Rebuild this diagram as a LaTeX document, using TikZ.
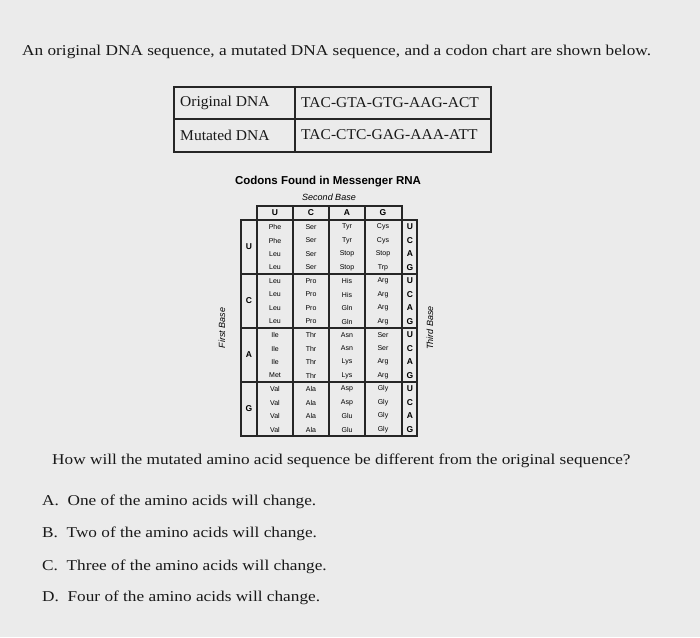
\documentclass[tikz,border=0pt]{standalone}
\usepackage{fontspec}
\setmainfont{Liberation Serif}
\newfontfamily\hsans{Liberation Sans}
\begin{document}
\begin{tikzpicture}[x=1pt,y=-1pt,
  serif/.style={font=\fontsize{15}{17}\selectfont,anchor=west,inner sep=0pt,xscale=1.15,text=black!90},
  aa/.style={font=\hsans\fontsize{7}{8}\selectfont,inner sep=0pt},
  base/.style={font=\hsans\bfseries\fontsize{8.5}{9}\selectfont,inner sep=0pt},
  tline/.style={line width=1.1pt,black!85}]
\fill[black!8] (0,0) rectangle (700,637);
\useasboundingbox (0,0) rectangle (700,637);
\node[serif] (title) at (22,52) {An original DNA sequence, a mutated DNA sequence, and a codon chart are shown below.};
% DNA table
\draw[tline] (174,87) rectangle (491,152);
\draw[tline] (174,119) -- (491,119);
\draw[tline] (295,87) -- (295,152);
\node[serif,xscale=0.9] (o1) at (180,103) {Original DNA};
\node[serif,xscale=0.9] (o2) at (301,103) {TAC-GTA-GTG-AAG-ACT};
\node[serif,xscale=0.9] (m1) at (180,135) {Mutated DNA};
\node[serif,xscale=0.9] (m2) at (301,135) {TAC-CTC-GAG-AAA-ATT};
% codon chart
\node[font=\hsans\bfseries\fontsize{11.5}{13}\selectfont,inner sep=0pt] (ct) at (328,182) {Codons Found in Messenger RNA};
\node[font=\hsans\itshape\fontsize{9}{10}\selectfont,inner sep=0pt] (sb) at (329,197) {Second Base};
\node[font=\hsans\itshape\fontsize{9}{10}\selectfont,inner sep=0pt,rotate=90] (fb) at (222,328) {First Base};
\node[font=\hsans\itshape\fontsize{9}{10}\selectfont,inner sep=0pt,rotate=90] (tb) at (430,328) {Third Base};
\draw[tline] (257,206) rectangle (402,220);
\draw[tline] (241,220) rectangle (417,436);
\foreach \x in {293,329,365} \draw[tline] (\x,206) -- (\x,436);
\draw[tline] (257,206) -- (257,436);
\draw[tline] (402,206) -- (402,436);
\foreach \y in {274,328,382} \draw[tline] (241,\y) -- (417,\y);
\foreach \b [count=\i] in {U,C,A,G} {
  \node[base] (h\i) at ({275+36*(\i-1)},213) {\b};
  \node[base] (f\i) at (249,{247+54*(\i-1)}) {\b};
  \foreach \t [count=\j] in {U,C,A,G}
    \node[base] (t\i\j) at (410,{227+54*(\i-1)+13.5*(\j-1)}) {\t};
}
\foreach \g [count=\i] in {
 {{Phe,Ser,Tyr,Cys},{Phe,Ser,Tyr,Cys},{Leu,Ser,Stop,Stop},{Leu,Ser,Stop,Trp}},
 {{Leu,Pro,His,Arg},{Leu,Pro,His,Arg},{Leu,Pro,Gln,Arg},{Leu,Pro,Gln,Arg}},
 {{Ile,Thr,Asn,Ser},{Ile,Thr,Asn,Ser},{Ile,Thr,Lys,Arg},{Met,Thr,Lys,Arg}},
 {{Val,Ala,Asp,Gly},{Val,Ala,Asp,Gly},{Val,Ala,Glu,Gly},{Val,Ala,Glu,Gly}}} {
  \foreach \r [count=\j] in \g {
    \foreach \a [count=\k] in \r
      \node[aa] (c\i\j\k) at ({275+36*(\k-1)},{227+54*(\i-1)+13.5*(\j-1)}) {\a};
  }
}
% question
\node[serif] (q) at (52,461) {How will the mutated amino acid sequence be different from the original sequence?};
\node[serif] (qa) at (42,502) {A.\enspace One of the amino acids will change.};
\node[serif] (qb) at (42,534) {B.\enspace Two of the amino acids will change.};
\node[serif] (qc) at (42,567) {C.\enspace Three of the amino acids will change.};
\node[serif] (qd) at (42,598) {D.\enspace Four of the amino acids will change.};
\end{tikzpicture}
\end{document}
